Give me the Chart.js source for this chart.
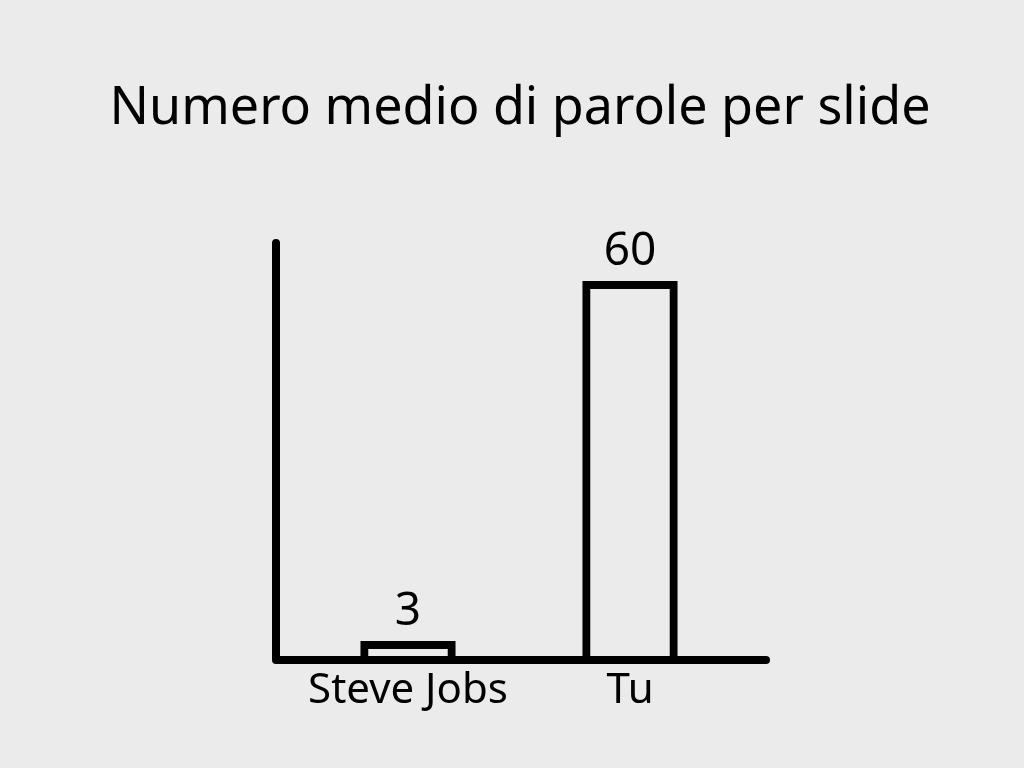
<!DOCTYPE html>
<html>
<head>
<meta charset="utf-8">
<script src="https://cdn.jsdelivr.net/npm/chart.js@4/dist/chart.umd.min.js"></script>
<style>
    html, body { margin: 0; padding: 0; background: #ebebeb; }
    #wrap { width: 1024px; height: 768px; }
</style>
</head>
<body>
<div id="wrap"><canvas id="chart" width="1024" height="768"></canvas></div>
<script>
const title = 'Numero medio di parole per slide';
const categories = ['Steve Jobs', 'Tu'];
const wordsPerSlide = [3, 60];
const yMax = 66;

const ink = '#000000';
const handFont = '"Noto Sans", "DejaVu Sans", sans-serif';

// title drawn by hand, the built-in one gets squeezed into the plot width
const bigTitle = {
    id: 'bigTitle',
    afterDraw(chart) {
        const {ctx} = chart;
        ctx.save();
        ctx.fillStyle = ink;
        ctx.font = '52px ' + handFont;
        ctx.textAlign = 'center';
        ctx.textBaseline = 'alphabetic';
        ctx.fillText(title, chart.width / 2 + 8, 124);
        ctx.restore();
    }
};

// axes are drawn by hand so they can overhang the bars a little
const handAxes = {
    id: 'handAxes',
    afterDatasetsDraw(chart) {
        const {ctx, chartArea} = chart;
        ctx.save();
        ctx.strokeStyle = ink;
        ctx.lineWidth = 8;
        ctx.lineCap = 'round';
        ctx.lineJoin = 'round';
        ctx.beginPath();
        ctx.moveTo(chartArea.left - 21, chartArea.top);
        ctx.lineTo(chartArea.left - 21, chartArea.bottom);
        ctx.lineTo(chartArea.right + 25, chartArea.bottom);
        ctx.stroke();
        ctx.restore();
    }
};

const valueLabels = {
    id: 'valueLabels',
    afterDatasetsDraw(chart) {
        const {ctx} = chart;
        const meta = chart.getDatasetMeta(0);
        ctx.save();
        ctx.fillStyle = ink;
        ctx.font = '46px ' + handFont;
        ctx.textAlign = 'center';
        ctx.textBaseline = 'bottom';
        meta.data.forEach((bar, i) => {
            ctx.fillText(String(wordsPerSlide[i]), bar.x, bar.y - 6);
        });
        ctx.restore();
    }
};

new Chart(document.getElementById('chart'), {
    type: 'bar',
    data: {
        labels: categories,
        datasets: [{
            data: wordsPerSlide,
            backgroundColor: 'rgba(0,0,0,0)',
            borderColor: ink,
            borderWidth: 8,
            borderSkipped: 'start',
            barPercentage: 0.43,
            categoryPercentage: 1
        }]
    },
    options: {
        responsive: false,
        animation: false,
        layout: {
            padding: {left: 297, right: 283, top: 243, bottom: 0}
        },
        plugins: {
            legend: {display: false},
            tooltip: {enabled: false},
            title: {display: false}
        },
        scales: {
            x: {
                grid: {display: false, drawTicks: false},
                border: {display: false},
                ticks: {
                    color: ink,
                    font: {family: handFont, size: 42},
                    padding: 6
                },
                afterFit(scale) {
                    scale.height = 108;
                }
            },
            y: {
                display: false,
                min: 0,
                max: yMax
            }
        }
    },
    plugins: [bigTitle, handAxes, valueLabels]
});
</script>
</body>
</html>
